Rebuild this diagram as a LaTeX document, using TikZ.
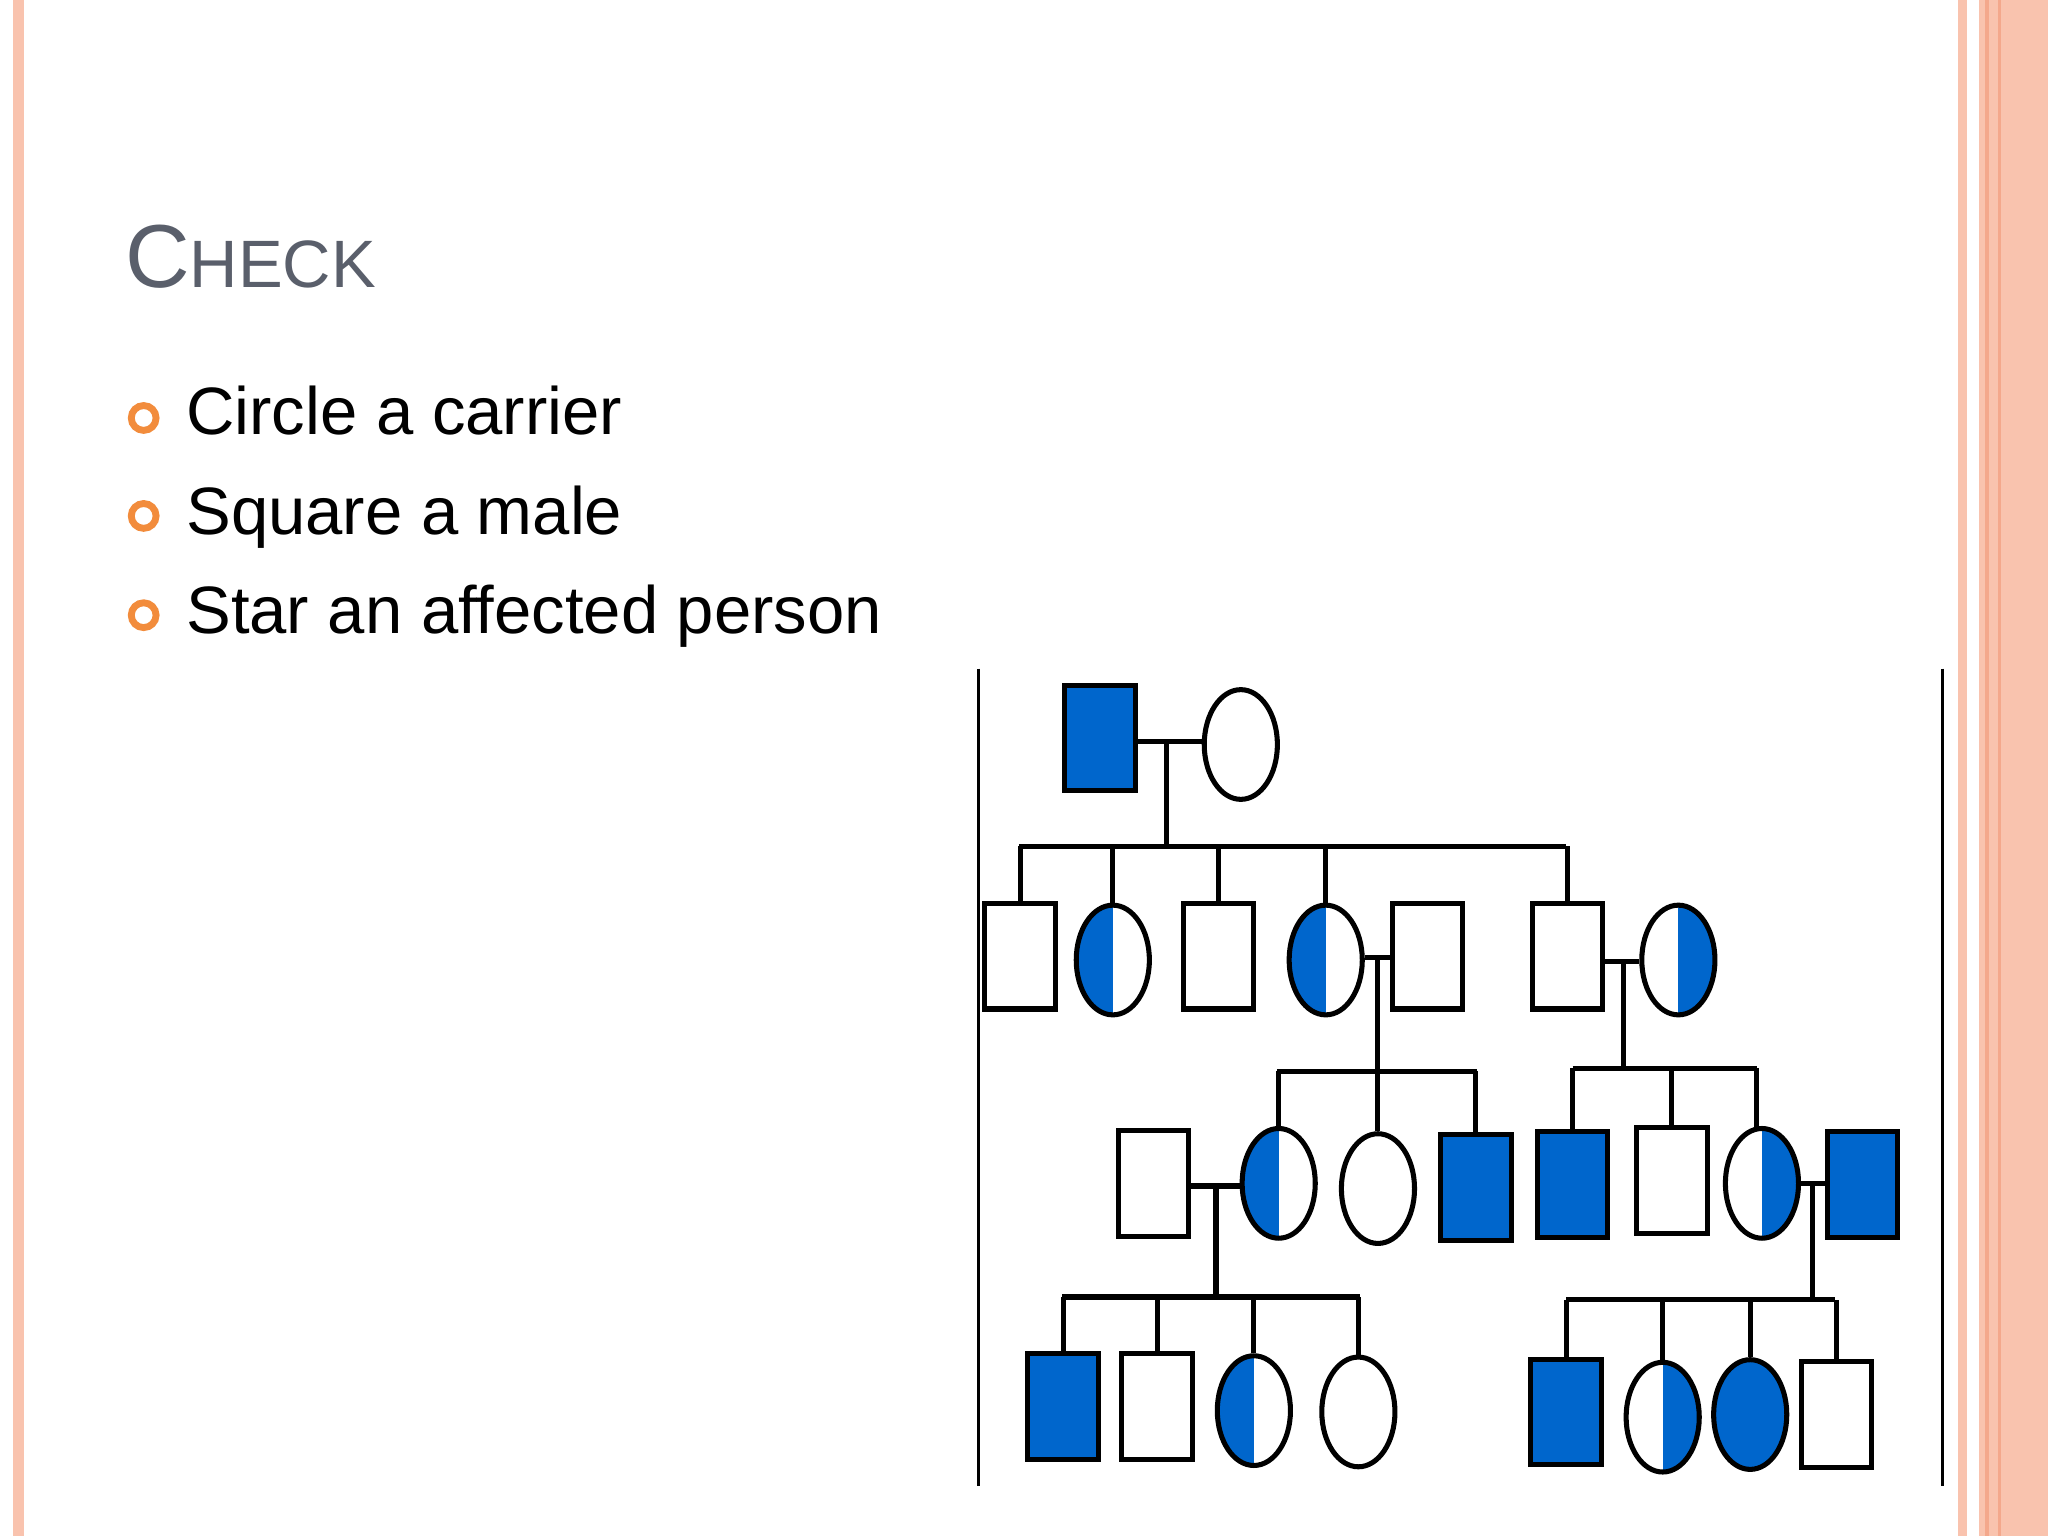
\documentclass[tikz,border=0pt]{standalone}
\usepackage{fontspec}
\setmainfont{Liberation Sans}
\usetikzlibrary{shapes.geometric}
\definecolor{pblue}{HTML}{0066CC}
\definecolor{peach}{HTML}{F9C3AE}
\definecolor{peachd}{HTML}{F4A88C}
\definecolor{tgray}{HTML}{5A5F6B}
\definecolor{borange}{HTML}{F28C3C}
\tikzset{
 ln/.style={line width=1.1pt,black},
 sq/.style={draw,line width=1.1pt,minimum width=5.4mm,minimum height=8.1mm,inner sep=0,fill=white},
 sqa/.style={sq,fill=pblue},
 ci/.style={ellipse,draw,line width=1.1pt,minimum width=5.6mm,minimum height=8.4mm,inner sep=0,fill=white},
 cia/.style={ci,fill=pblue},
 cl/.style={ci,path picture={\fill[pblue] (path picture bounding box.south west) rectangle (path picture bounding box.north);}},
 cr/.style={ci,path picture={\fill[pblue] (path picture bounding box.south) rectangle (path picture bounding box.north east);}},
 bul/.style={circle,draw=borange,line width=1.5pt,minimum size=1.9mm,inner sep=0},
 btxt/.style={anchor=base west,font=\fontsize{14.6}{18}\selectfont,inner sep=0}
}
\begin{document}
\begin{tikzpicture}[x=0.1mm,y=-0.1mm]
\useasboundingbox (0,0) rectangle (1568,1176);
\fill[white] (0,0) rectangle (1568,1176);
% borders
\fill[peach] (10,0) rectangle (18,1176);
\fill[peach] (1499,0) rectangle (1506,1176);
\fill[peach] (1515,0) rectangle (1568,1176);
\fill[peachd] (1520,0) rectangle (1523,1176);
\fill[peachd] (1530,0) rectangle (1532,1176);
% title
\node[anchor=base west,text=tgray,inner sep=0] (title) at (95,220) {\fontsize{19.5}{24}\selectfont C\fontsize{14.6}{18}\selectfont HECK};
\node[bul] (b1) at (110,320) {};
\node[bul] (b2) at (110,395) {};
\node[bul] (b3) at (110,471) {};
\node[btxt] (t1) at (142,333) {Circle a carrier};
\node[btxt] (t2) at (142,409) {Square a male};
\node[btxt] (t3) at (142,485) {Star an affected person};
% frame lines
\draw[line width=0.6pt] (749,512) coordinate (fl1) -- (749,1138) coordinate (fl2);
\draw[line width=0.6pt] (1487,512) coordinate (fr1) -- (1487,1138) coordinate (fr2);
% gen 1
\node[sqa] (g1m) at (842,565) {};
\node[ci] (g1f) at (950,570) {};
\draw[ln] (g1m.east|-0,568) -- (g1f.west|-0,568);
\draw[ln] (893,568) -- (893,648);
\draw[ln] (780,648) -- (1199,648);
% gen 2
\node[sq] (a1) at (781,732) {};
\node[cl] (a2) at (852,735) {};
\node[sq] (a3) at (933,732) {};
\node[cl] (a4) at (1015,735) {};
\node[sq] (a5) at (1093,732) {};
\node[sq] (a6) at (1200,732) {};
\node[cr] (a7) at (1285,735) {};
\foreach \n in {a1,a2,a3,a4,a6} \draw[ln] (\n.north) -- (\n.north|-0,648);
\draw[ln] (a4.east|-0,733) -- (a5.west|-0,733);
\draw[ln] (a6.east|-0,736) -- (a7.west|-0,736);
% gen2 left family
\draw[ln] (1055,733) -- (1055,820);
\draw[ln] (978,820) -- (1131,820);
\node[sq] (b0) at (883,906) {};
\node[cl] (b1n) at (979,906) {};
\node[ci] (b2n) at (1055,910) {};
\node[sqa] (b3n) at (1130,909) {};
\foreach \n in {b1n,b2n,b3n} \draw[ln] (\n.north) -- (\n.north|-0,820);
\draw[ln] (b0.east|-0,908) -- (b1n.west|-0,908);
\draw[ln] (931,908) -- (931,993);
% gen2 right family
\draw[ln] (1243,736) -- (1243,818);
\draw[ln] (1204,818) -- (1345,818);
\node[sqa] (c1) at (1204,907) {};
\node[sq] (c2) at (1280,904) {};
\node[cr] (c3) at (1349,906) {};
\node[sqa] (c4) at (1426,907) {};
\draw[ln] (c1.north) -- (1204,818);
\draw[ln] (c2.north) -- (1280,818);
\draw[ln] (1345,864) -- (1345,818);
\draw[ln] (c3.east|-0,906) -- (c4.west|-0,906);
\draw[ln] (1388,906) -- (1388,995);
% gen3 left
\draw[ln] (813,993) -- (1041,993);
\node[sqa] (d1) at (814,1077) {};
\node[sq] (d2) at (886,1077) {};
\node[cl] (d3) at (960,1080) {};
\node[ci] (d4) at (1040,1081) {};
\foreach \n in {d1,d2,d3,d4} \draw[ln] (\n.north) -- (\n.north|-0,993);
% gen3 right
\draw[ln] (1199,995) -- (1405,995);
\node[sqa] (e1) at (1199,1081) {};
\node[cr] (e2) at (1273,1085) {};
\node[cia] (e3) at (1340,1083) {};
\node[sq] (e4) at (1406,1083) {};
\foreach \n in {e1,e2,e3,e4} \draw[ln] (\n.north) -- (\n.north|-0,995);
\end{tikzpicture}
\end{document}
